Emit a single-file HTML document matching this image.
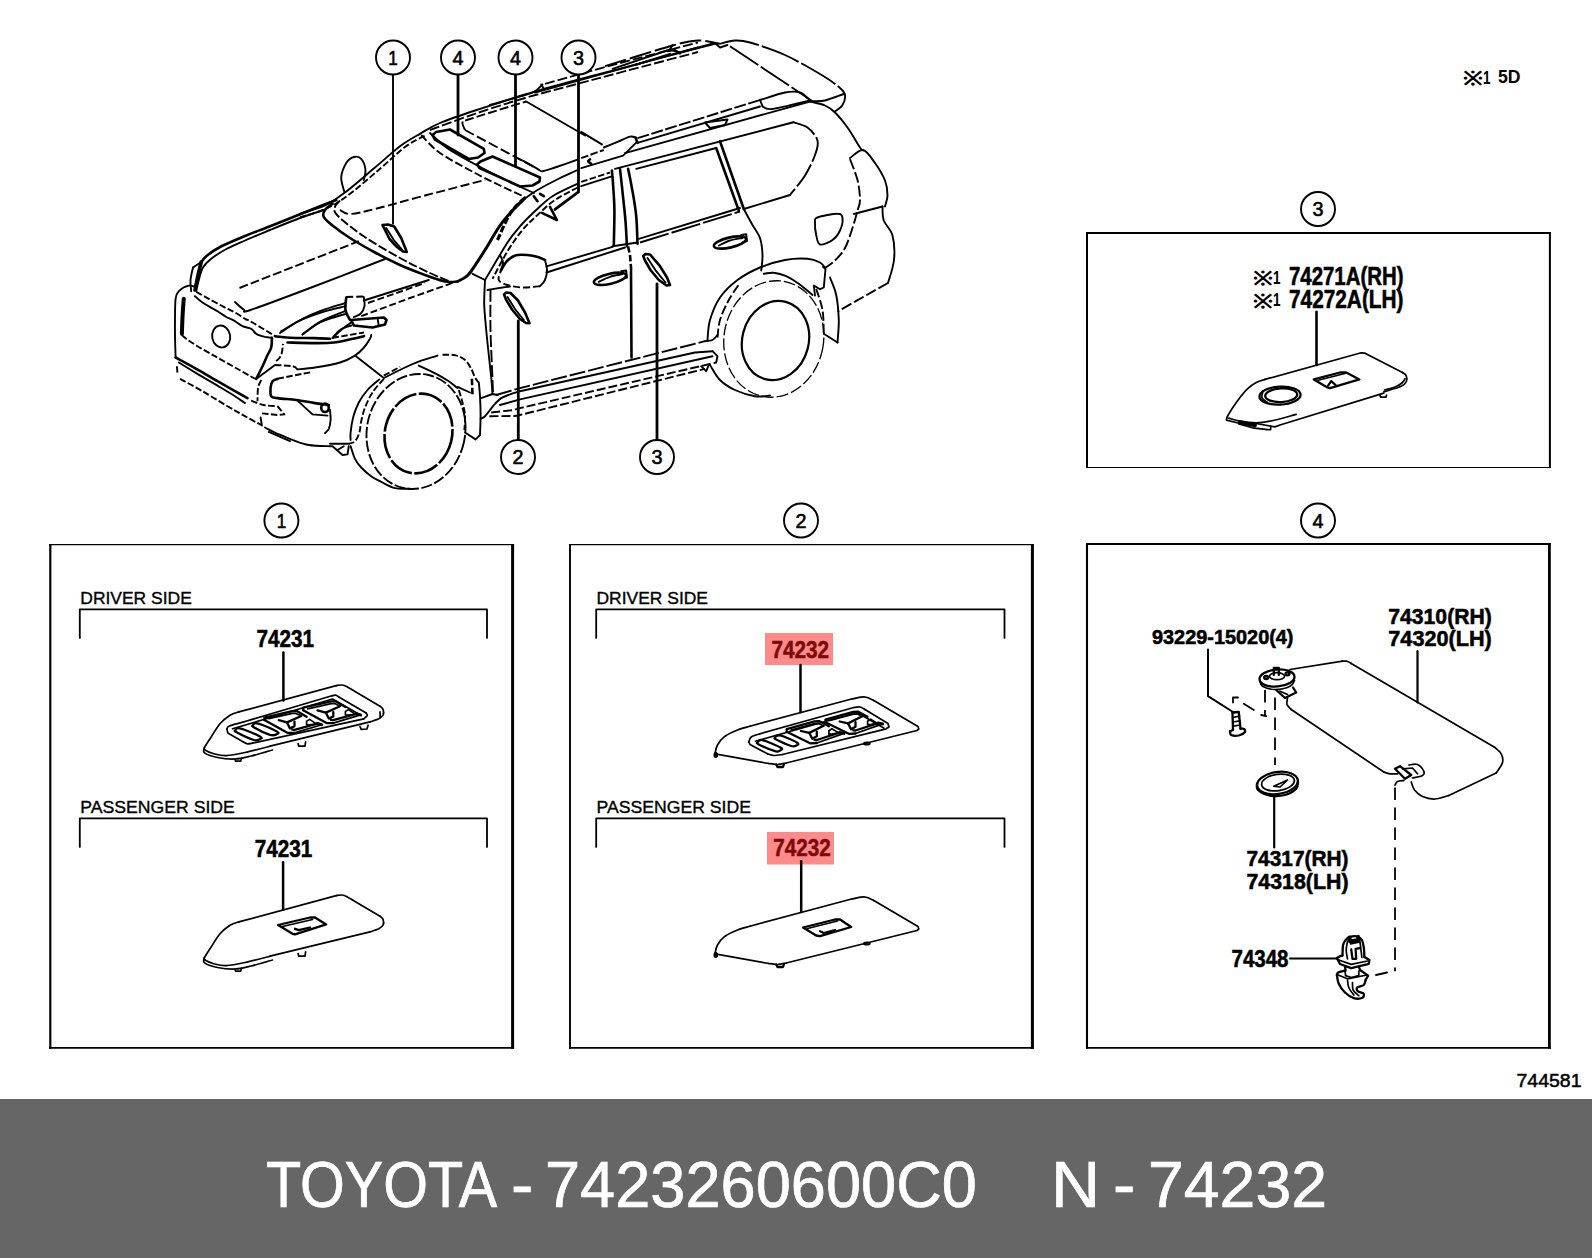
<!DOCTYPE html>
<html lang="en"><head><meta charset="utf-8"><title>TOYOTA - 7423260600C0 N - 74232</title>
<style>
html,body{margin:0;padding:0;background:#fff;}
body{width:1592px;height:1258px;position:relative;overflow:hidden;font-family:"Liberation Sans",sans-serif;}
#dia{position:absolute;left:0;top:0;width:1592px;height:1099px;display:block;}
#dia path,#dia ellipse,#dia circle,#dia line,#dia rect{stroke:#000;stroke-linecap:round;stroke-linejoin:round;}
#dia path,#dia ellipse{fill:none;}
#dia text{font-family:"Liberation Sans",sans-serif;fill:#000;stroke:none;}
#bar{position:absolute;left:0;top:1099px;width:1592px;height:159px;background:#666666;color:#fff;}
#bar span{position:absolute;top:54px;font-size:64px;line-height:64px;white-space:nowrap;transform-origin:0 0;-webkit-text-stroke:0.7px #fff;}
</style></head><body>
<svg id="dia" width="1592" height="1099" viewBox="0 0 1592 1099">
<line x1="49.2" y1="544.6" x2="514.1" y2="544.6" stroke-width="1.4" style="stroke-linecap:butt"/>
<line x1="49.2" y1="1047.9" x2="514.1" y2="1047.9" stroke-width="1.9" style="stroke-linecap:butt"/>
<line x1="50.3" y1="543.9" x2="50.3" y2="1048.9" stroke-width="2.2" style="stroke-linecap:butt"/>
<line x1="512.6" y1="543.9" x2="512.6" y2="1048.9" stroke-width="3" style="stroke-linecap:butt"/>
<line x1="569.1" y1="544.6" x2="1033.9" y2="544.6" stroke-width="1.3" style="stroke-linecap:butt"/>
<line x1="569.1" y1="1047.9" x2="1033.9" y2="1047.9" stroke-width="1.9" style="stroke-linecap:butt"/>
<line x1="570" y1="544" x2="570" y2="1048.9" stroke-width="1.9" style="stroke-linecap:butt"/>
<line x1="1032.4" y1="544" x2="1032.4" y2="1048.9" stroke-width="3" style="stroke-linecap:butt"/>
<line x1="1086" y1="544" x2="1550.8" y2="544" stroke-width="1.9" style="stroke-linecap:butt"/>
<line x1="1086" y1="1047.9" x2="1550.8" y2="1047.9" stroke-width="1.7" style="stroke-linecap:butt"/>
<line x1="1087" y1="543" x2="1087" y2="1048.8" stroke-width="2.1" style="stroke-linecap:butt"/>
<line x1="1549.4" y1="543" x2="1549.4" y2="1048.8" stroke-width="2.8" style="stroke-linecap:butt"/>
<line x1="1086" y1="233" x2="1550.9" y2="233" stroke-width="1.9" style="stroke-linecap:butt"/>
<line x1="1086" y1="467.5" x2="1550.9" y2="467.5" stroke-width="1.2" style="stroke-linecap:butt"/>
<line x1="1087" y1="232.1" x2="1087" y2="468.1" stroke-width="2" style="stroke-linecap:butt"/>
<line x1="1549.9" y1="232.1" x2="1549.9" y2="468.1" stroke-width="2" style="stroke-linecap:butt"/>
<circle cx="281.4" cy="520.5" r="17" stroke-width="1.9" fill="#fff"/>
<text x="281.4" y="527.8" font-size="20.5" text-anchor="middle" textLength="9.5" lengthAdjust="spacingAndGlyphs" style="stroke:#000;stroke-width:0.6px">1</text>
<circle cx="801" cy="520.5" r="17" stroke-width="1.9" fill="#fff"/>
<text x="801" y="527.8" font-size="20.5" text-anchor="middle" textLength="11" lengthAdjust="spacingAndGlyphs" style="stroke:#000;stroke-width:0.6px">2</text>
<circle cx="1318" cy="520.5" r="17" stroke-width="1.9" fill="#fff"/>
<text x="1318" y="527.8" font-size="20.5" text-anchor="middle" textLength="11" lengthAdjust="spacingAndGlyphs" style="stroke:#000;stroke-width:0.6px">4</text>
<circle cx="1318" cy="209" r="17" stroke-width="1.9" fill="#fff"/>
<text x="1318" y="216.3" font-size="20.5" text-anchor="middle" textLength="11" lengthAdjust="spacingAndGlyphs" style="stroke:#000;stroke-width:0.6px">3</text>
<text x="80.3" y="603.6" font-size="16.8" textLength="111.5" lengthAdjust="spacingAndGlyphs" style="stroke:#000;stroke-width:0.35px">DRIVER SIDE</text>
<path d="M79.8 637.9L79.8 609.4L487 609.4L487 637.9" stroke-width="1.8"/>
<text x="80.3" y="812.8" font-size="16.8" textLength="154.5" lengthAdjust="spacingAndGlyphs" style="stroke:#000;stroke-width:0.35px">PASSENGER SIDE</text>
<path d="M79.8 846.9L79.8 818.4L487 818.4L487 846.9" stroke-width="1.8"/>
<text x="596.5" y="603.6" font-size="16.8" textLength="111.5" lengthAdjust="spacingAndGlyphs" style="stroke:#000;stroke-width:0.35px">DRIVER SIDE</text>
<path d="M596.2 637.9L596.2 609.4L1004.5 609.4L1004.5 637.9" stroke-width="1.8"/>
<text x="596.5" y="812.8" font-size="16.8" textLength="154.5" lengthAdjust="spacingAndGlyphs" style="stroke:#000;stroke-width:0.35px">PASSENGER SIDE</text>
<path d="M596.2 846.9L596.2 818.4L1004.5 818.4L1004.5 846.9" stroke-width="1.8"/>
<text x="1516.5" y="1086.7" font-size="19" textLength="65" lengthAdjust="spacingAndGlyphs" style="stroke:#000;stroke-width:0.5px">744581</text>
<path d="M336.2 200C333.5 201 326 203.9 320 206.2C314 208.6 308.3 210.9 300 214.2C291.7 217.6 279.6 222.5 270 226.2C260.4 230 250.8 233.5 242.5 237C234.2 240.5 226 243.8 220 247C214 250.2 209.4 253.7 206.2 256.2C203.1 258.8 202.1 261.5 201.2 262.5" stroke-width="2.6"/>
<path d="M323.8 210C319.8 211.3 309 214.7 300 218C291 221.3 279.2 226.2 270 230C260.8 233.8 252.4 237.2 245 240.5C237.6 243.8 231.1 246.5 225.5 249.5C219.9 252.5 215 255.8 211.2 258.8C207.5 261.8 205.1 264 203 267.5C200.9 271 199.9 276 198.8 280C197.6 284 196.7 289.4 196.2 291.2" stroke-width="1.9"/>
<path d="M201.2 262C200.6 264.6 198.5 272.8 197.5 277.5C196.5 282.2 195.4 287.9 195 290" stroke-width="3.6"/>
<path d="M193 267.5C192.6 269.6 190.8 276 190.5 280C190.2 284 191.1 289.4 191.2 291.2" stroke-width="1.9"/>
<path d="M193 267.5L201.2 262" stroke-width="1.9"/>
<path d="M239.5 288L358.8 241.2" stroke-width="1.9" stroke-dasharray="9 3" style="stroke-linecap:butt"/>
<path d="M235 302C236.5 303.2 241.2 308.2 243.8 309.5C246.3 310.8 239.5 313.6 250.5 310C261.5 306.4 287.6 296.5 310 288C332.4 279.5 372.5 263.8 385 259" stroke-width="1.9"/>
<path d="M363.8 300.5L428.8 280" stroke-width="1.9"/>
<path d="M368 303L425 283" stroke-width="1.9" stroke-dasharray="7 3" style="stroke-linecap:butt"/>
<path d="M361.2 316.2L410 298L455 282" stroke-width="1.9" stroke-dasharray="7 3" style="stroke-linecap:butt"/>
<path d="M346.2 297.5C346.1 299.6 344.9 306.2 345.5 310C346.1 313.8 349.2 318.3 350 320" stroke-width="2.6"/>
<path d="M346.2 297L363.8 296.5" stroke-width="1.9" stroke-dasharray="7 3" style="stroke-linecap:butt"/>
<path d="M363.8 297C363.9 298.5 365 303.5 364.5 306.2C364 309 362.3 312 360.5 313.8C358.7 315.5 354.9 316.5 353.8 317" stroke-width="1.9"/>
<path d="M351.2 320L383.8 317.5L386.5 320L385 324.5L372.5 327.5L353.8 325.5Z" stroke-width="2.6"/>
<path d="M377.5 318.2L378.8 326" stroke-width="1.9"/>
<path d="M280 333C283.3 330.9 292.9 324 300 320.5C307.1 317 314.9 314.4 322.5 312C330.1 309.6 341.7 307.2 345.5 306.2" stroke-width="1.9"/>
<path d="M302.5 334.5C305 332.7 312.1 326.7 317.5 323.8C322.9 320.8 330.2 318.7 335 317C339.8 315.3 344.4 314.3 346.2 313.8" stroke-width="1.9"/>
<path d="M332.5 338C333.8 336.7 336.9 332.1 340 330C343.1 327.9 349.4 326.2 351.2 325.5" stroke-width="1.9"/>
<path d="M472.5 273.8L485 280" stroke-width="1.9"/>
<path d="M485 280C484.9 284.2 484 296.7 484.2 305C484.5 313.3 485.5 321.7 486.2 330C487 338.3 487.9 347.1 488.8 355C489.6 362.9 490.6 371 491.2 377.5C491.9 384 492.3 391.2 492.5 394" stroke-width="1.9"/>
<path d="M490.5 290C490.5 296.7 490.2 317.1 490.5 330C490.8 342.9 491.6 357.1 492 367.5C492.4 377.9 492.8 388.3 493 392.5" stroke-width="1.9" stroke-dasharray="12 3" style="stroke-linecap:butt"/>
<path d="M501.2 270C502.3 268.4 504.8 263 507.5 260.5C510.2 258 512.9 255.7 517.5 255C522.1 254.3 530.4 255.4 535 256.2C539.6 257.1 543.3 259.4 545 260" stroke-width="2.6"/>
<path d="M545 260C545.3 261.7 547 266.7 547 270C547 273.3 546.2 277.3 545 280C543.8 282.7 540.8 285.2 540 286.2" stroke-width="1.9"/>
<path d="M540 286.2C537.1 286.5 527.9 287.7 522.5 287.5C517.1 287.3 511.5 286.2 507.5 285C503.5 283.8 499.8 282.5 498.8 280C497.7 277.5 500.8 271.7 501.2 270" stroke-width="1.9" stroke-dasharray="7 3" style="stroke-linecap:butt"/>
<path d="M487.5 290C490 289.6 498.8 288.1 502.5 287.5C506.2 286.9 508.8 286.7 510 286.5" stroke-width="1.9"/>
<path d="M500 255C500.5 256.2 502.9 259.8 503 262.5C503.1 265.2 500.9 269.8 500.5 271.2" stroke-width="1.9"/>
<path d="M504 294.5L506.2 292.5L510.5 293L518 300.5L525 312.5L529.5 323.2L526 323L520 319L512 309.5L506 299.5Z" stroke-width="2.6"/>
<path d="M507.5 297L515 309L523.8 320" stroke-width="1.9"/>
<path d="M382.5 225L388 224.5L394.2 226.5L401.2 238L406.8 252L403 251.5L397 247L389.5 239Z" stroke-width="2.6"/>
<path d="M386.2 228L393.8 240L402 249.5" stroke-width="1.9"/>
<path d="M196.2 287.5C195 287.2 191.7 285 188.8 285.6C185.8 286.2 180.9 289.1 178.8 291.2C176.6 293.4 176.2 294.4 175.6 298.8C175 303.1 175.1 311.2 175 317.5C174.9 323.8 174.9 329.6 175 336.2C175.1 342.9 175.5 354 175.6 357.5" stroke-width="1.9"/>
<path d="M183.8 298.8C183.5 301.9 182.8 311.7 182.5 317.5C182.2 323.3 182 331 181.9 333.8" stroke-width="4"/>
<path d="M195 296.2C196.2 297.3 198.8 300 202.5 302.5C206.2 305 213.8 309 217.5 311.2C221.2 313.5 222.1 314.6 225 316.2C227.9 317.9 232.1 319.6 235 321.2C237.9 322.9 239.8 325 242.5 326.2C245.2 327.5 249 327.5 251.2 328.8C253.5 330 254 332.4 256.2 333.8C258.5 335.1 262.4 336.2 265 336.9C267.6 337.5 270.7 337.6 271.9 337.8" stroke-width="1.9"/>
<path d="M196.2 291.9C198.3 293 204.2 296.2 208.8 298.8C213.3 301.2 219.4 304.6 223.8 306.9C228.1 309.2 231.5 310.5 235 312.5C238.5 314.5 242.1 317.1 245 318.8C247.9 320.4 247.5 319.6 252.5 322.5C257.5 325.4 271.2 333.8 275 336" stroke-width="1.9" stroke-dasharray="6.5 2.4" style="stroke-linecap:butt"/>
<path d="M271.9 337.8C271.8 339.4 272 344.6 271.2 347.5C270.5 350.4 269 351.9 267.5 355C266 358.1 264.4 362.3 262.5 366.2C260.6 370.2 257.3 376.7 256.2 378.8" stroke-width="2.6"/>
<path d="M256.2 378.8C257.7 377.7 261.9 374.8 265 372.5C268.1 370.2 273.3 366.2 275 365" stroke-width="1.9"/>
<path d="M275 365C277.9 365.2 288.8 365.5 292.5 366.2C296.2 367 296.7 368.9 297.5 369.4" stroke-width="1.9" stroke-dasharray="6.5 2.4" style="stroke-linecap:butt"/>
<path d="M276.2 361.2C277.1 360.2 280.1 357.9 281.2 355C282.4 352.1 282.8 345.6 283.1 343.8" stroke-width="1.9" stroke-dasharray="6.5 2.4" style="stroke-linecap:butt"/>
<path d="M181.9 335C182.6 335.6 183.6 336.9 186.2 338.8C188.9 340.6 192.7 343.3 197.5 346.2C202.3 349.2 208.8 352.7 215 356.2C221.2 359.8 228.3 363.8 235 367.5C241.7 371.2 251.7 376.9 255 378.8" stroke-width="1.9" stroke-dasharray="6.5 2.4" style="stroke-linecap:butt"/>
<ellipse cx="221.2" cy="336.5" rx="9" ry="11" stroke-width="1.9" fill="none" transform="rotate(-10 221.2 336.5)"/>
<path d="M175.6 357.5C179.1 359.4 189.3 364.8 196.2 368.8C203.2 372.7 211 377.5 217.5 381.2C224 385 230 388.4 235 391.2C240 394.1 245.4 397 247.5 398.1" stroke-width="2.6"/>
<path d="M178.8 362.5C181.7 364.3 189.8 369.3 196.2 373.1C202.7 377 211 381.8 217.5 385.6C224 389.5 230.4 393.3 235 396.2C239.6 399.2 243.3 402 245 403.1" stroke-width="1.9"/>
<path d="M176.9 366.2L177.5 373.8" stroke-width="1.9" stroke-dasharray="6.5 2.4" style="stroke-linecap:butt"/>
<path d="M180 378.8C183.8 380.8 194.6 386.7 202.5 391.2C210.4 395.8 220.4 402.1 227.5 406.2C234.6 410.4 239.4 413.1 245 416.2C250.6 419.4 258.5 423.5 261.2 425" stroke-width="1.9" stroke-dasharray="6.5 2.4" style="stroke-linecap:butt"/>
<path d="M261.2 380C260.7 381.2 258.8 384 258.1 387.5C257.5 391 257.6 399 257.5 401.2" stroke-width="1.9" stroke-dasharray="6.5 2.4" style="stroke-linecap:butt"/>
<path d="M260.6 417.5L261.9 425.6" stroke-width="1.9"/>
<path d="M251.2 400.6C253.3 401.4 259.4 404.1 263.8 405C268.1 405.9 275.2 406 277.5 406.2" stroke-width="1.9" stroke-dasharray="6.5 2.4" style="stroke-linecap:butt"/>
<path d="M277.5 406.2L284.4 414.4L277.5 415L260 413.1" stroke-width="1.9" stroke-dasharray="6.5 2.4" style="stroke-linecap:butt"/>
<path d="M265 427.5C267.1 428.5 273.1 431.8 277.5 433.8C281.9 435.7 286 437.5 291.2 439.4C296.5 441.2 302.1 443.9 308.8 445C315.4 446.1 327.5 446 331.2 446.2" stroke-width="1.9"/>
<path d="M268.8 431.9L290 441.2" stroke-width="1.9"/>
<path d="M277.5 378.8C276.7 379.2 273.6 379.8 272.5 381.2C271.4 382.7 270.8 385 270.6 387.5C270.4 390 270.1 394.5 271.2 396.2C272.4 398 273.3 397.5 277.5 398.1C281.7 398.8 290 399.2 296.2 400C302.5 400.8 309.6 402.3 315 403.1C320.4 404 326.5 404.7 328.8 405" stroke-width="2.6"/>
<path d="M277.5 378.8C279.6 378.3 285.8 377.1 290 376.2C294.2 375.4 298.8 374.5 302.5 373.8C306.2 373 310.8 372.2 312.5 371.9" stroke-width="1.9" stroke-dasharray="6.5 2.4" style="stroke-linecap:butt"/>
<path d="M297.5 400.6L312.5 414.4L327.5 415.6" stroke-width="1.9"/>
<ellipse cx="325" cy="407.8" rx="3.8" ry="4.2" stroke-width="2.6" fill="none"/>
<path d="M330 410C330.1 411.7 330.8 416.9 330.6 420C330.4 423.1 329.7 426.6 328.8 428.8C327.8 430.9 325.6 432.4 325 433.1" stroke-width="1.9"/>
<path d="M275 336.2C277.5 336.5 283.3 337.4 290 337.8C296.7 338.1 308.3 338 315 338.1C321.7 338.3 327.5 338.6 330 338.8" stroke-width="2.6"/>
<path d="M287.5 342.5C292.1 342.6 307.3 343.1 315 343.1C322.7 343.1 327.5 343.2 333.8 342.5C340 341.8 347.5 339.8 352.5 338.8C357.5 337.7 362.1 336.7 364 336.2" stroke-width="2.6"/>
<path d="M332.5 337.8L364 332.5" stroke-width="1.9" stroke-dasharray="6.5 2.4" style="stroke-linecap:butt"/>
<path d="M297.5 369.4C300.4 369.1 307.9 368.6 315 367.5C322.1 366.4 333.3 364.5 340 362.5C346.7 360.5 351 358.1 355 355.6C359 353.1 361.5 350.3 364 347.5C366.5 344.7 368.8 340.8 370 338.8C371.2 336.7 371 335.6 371.2 335" stroke-width="1.9"/>
<path d="M281.2 331.2C284.8 329.2 295.8 322.2 302.5 318.8C309.2 315.3 314.2 313.2 321.2 310.6C328.3 308 341 304.4 345 303.1" stroke-width="1.9"/>
<path d="M302.5 334.4C305.6 332.2 314.2 325.1 321.2 321.2C328.3 317.4 341 312.9 345 311.2" stroke-width="1.9"/>
<path d="M332.5 338.1C334.2 336.6 339.4 331.4 342.5 328.8C345.6 326.1 349.8 323.5 351.2 322.5" stroke-width="1.9"/>
<ellipse cx="418.5" cy="433.5" rx="33.6" ry="40.2" stroke-width="2.6" fill="none" stroke-dasharray="25 2.4" style="stroke-linecap:butt" transform="rotate(14 418.5 433.5)"/>
<ellipse cx="416" cy="431.5" rx="49.1" ry="57.9" stroke-width="1.9" fill="none" stroke-dasharray="11.2 2.5" style="stroke-linecap:butt" transform="rotate(12.5 416 431.5)"/>
<path d="M350.6 446.2C351.4 448.3 353.2 455.2 355 458.8C356.8 462.3 358.5 464.6 361.2 467.5C364 470.4 367.7 473.8 371.2 476.2C374.8 478.8 378.5 480.5 382.5 482.5C386.5 484.5 390.4 487.1 395 488.1C399.6 489.2 407.5 488.6 410 488.8" stroke-width="1.9"/>
<path d="M379.4 379.4C377.4 381.1 370.9 386.1 367.5 390C364.1 393.9 361.1 397.9 358.8 402.5C356.4 407.1 354.5 412.5 353.1 417.5C351.8 422.5 351 428.8 350.6 432.5C350.2 436.2 350.6 438.8 350.6 440" stroke-width="1.9"/>
<path d="M383.8 378.8C381.9 381 375.6 387.7 372.5 392.5C369.4 397.3 366.9 402.7 365 407.5C363.1 412.3 362.2 417.1 361.2 421.2C360.3 425.4 360.4 429.2 359.4 432.5C358.3 435.8 356.8 439.4 355 441.2C353.2 443.1 349.8 443.3 348.8 443.8" stroke-width="1.9" stroke-dasharray="6.5 2.4" style="stroke-linecap:butt"/>
<path d="M330 443.8L348.8 443.8" stroke-width="1.9"/>
<path d="M332.5 446.2L342.5 455L347.5 454.4L348.8 446.2" stroke-width="1.9"/>
<path d="M337.5 450L343.8 446.2" stroke-width="1.9"/>
<path d="M355 355.6L383.8 378.1" stroke-width="1.9"/>
<path d="M383.8 375.6L400 366.9" stroke-width="1.9" stroke-dasharray="6.5 2.5" style="stroke-linecap:butt"/>
<path d="M385 377.5C388.3 375.8 399.2 370.2 405 367.5C410.8 364.8 414.6 363.2 420 361.2C425.4 359.3 434.6 356.6 437.5 355.6" stroke-width="1.9"/>
<path d="M442.5 354.8C444.6 354.8 451.2 354.4 455 355.2C458.8 356.1 462.3 357.8 465 360C467.7 362.2 469.6 365.8 471.2 368.8C472.9 371.7 473.8 375.2 475 377.5C476.2 379.8 478.1 381.7 478.8 382.5" stroke-width="1.9" stroke-dasharray="6.5 2.4" style="stroke-linecap:butt"/>
<path d="M478.8 382.5C479 384.8 479.7 390.8 480 396.2C480.3 401.7 480.6 408.5 480.6 415C480.6 421.5 480.1 431.7 480 435" stroke-width="1.9"/>
<path d="M480 435L475.6 439.4L465 432.5" stroke-width="1.9"/>
<path d="M418.8 365.6C421.7 367 431.2 371.1 436.2 373.8C441.2 376.4 445.2 378.9 448.8 381.2C452.3 383.6 456 387 457.5 388.1" stroke-width="1.9"/>
<path d="M457.5 386.9L470 392.5" stroke-width="1.9"/>
<path d="M471.9 378.8L472.5 395" stroke-width="2.6" stroke-dasharray="6.5 2.4" style="stroke-linecap:butt"/>
<path d="M458.8 390C459.4 392.1 461.5 398.3 462.5 402.5C463.5 406.7 464.7 410.4 465 415C465.3 419.6 464.5 427.5 464.4 430" stroke-width="1.9" stroke-dasharray="6.5 2.4" style="stroke-linecap:butt"/>
<path d="M481.2 398.1L492.5 394L497.5 395" stroke-width="1.9"/>
<path d="M518.3 321L518.3 440" stroke-width="2.8"/>
<path d="M393 74.5L393 223.8" stroke-width="1.9"/>
<path d="M458 74.5L458 135" stroke-width="2.8"/>
<path d="M515.5 74.5L515.5 166.2" stroke-width="2.8"/>
<path d="M300 213.8C304.2 212.4 317.5 209 325 205.5C332.5 202 336.7 198.8 345 192.5C353.3 186.2 365.8 175.2 375 167.5C384.2 159.8 392.5 151.9 400 146.2C407.5 140.6 413.3 137.6 420 133.8C426.7 129.9 430.8 126.9 440 123C449.2 119.1 460.8 115.2 475 110.5C489.2 105.8 508.3 99.5 525 94.5C541.7 89.5 558.3 85 575 80.5C591.7 76 604.5 72.9 625 67.5C645.5 62.1 685.8 51.2 698 48" stroke-width="1.9"/>
<path d="M300 217.5C304.6 215.9 319.2 212 327.5 208C335.8 204 341.2 200.3 350 193.8C358.8 187.2 370.8 176.5 380 168.8C389.2 161 397.5 152.5 405 147C412.5 141.5 421.7 137.4 425 135.5" stroke-width="1.9" stroke-dasharray="6.5 2.5" style="stroke-linecap:butt"/>
<path d="M430 130C437.5 127.3 459.2 119.1 475 113.8C490.8 108.4 508.3 102.9 525 98C541.7 93.1 558.3 89 575 84.5C591.7 80 604.5 76.7 625 71.2C645.5 65.8 685.8 55.2 698 52" stroke-width="1.9" stroke-dasharray="10 3" style="stroke-linecap:butt"/>
<path d="M490 105C495.8 103.3 517.5 97.3 525 95C532.5 92.7 532.1 93 535 91.2C537.9 89.5 541.2 85.6 542.5 84.5" stroke-width="1.9"/>
<path d="M535 92.5L612.5 71.2L670 55L698 47.5" stroke-width="1.9"/>
<path d="M541.2 84.5L543.8 88.8" stroke-width="1.9"/>
<path d="M667.5 51.2L675 50L680 53.8" stroke-width="1.9"/>
<path d="M545 83.8L612.5 65L698 42.5" stroke-width="1.9" stroke-dasharray="10 3" style="stroke-linecap:butt"/>
<path d="M344.5 192.5C344 190 341 182.4 341.2 177.5C341.5 172.6 344.2 166.4 346.2 163C348.3 159.6 351.2 157.7 353.8 157C356.2 156.3 359.3 156.6 361.2 158.8C363.2 160.9 365.1 166.5 365.5 170C365.9 173.5 364 178.3 363.8 180" stroke-width="1.9"/>
<path d="M332.5 203.8C331.2 204.8 326.5 207.8 325 210C323.5 212.2 322.5 214.4 323.8 217C325 219.6 328.1 222 332.5 225.5C336.9 229 342.9 233.5 350 238C357.1 242.5 366.7 248 375 252.5C383.3 257 391.7 261.2 400 265C408.3 268.8 417.5 272.2 425 275C432.5 277.8 439.6 280.4 445 281.5C450.4 282.6 455.4 281.5 457.5 281.5" stroke-width="2.6"/>
<path d="M457.5 281.5C459.2 280.5 464.6 278.2 467.5 275.5C470.4 272.8 472.1 269.8 475 265.5C477.9 261.2 480.8 256.7 485 250C489.2 243.3 495.4 232.1 500 225.5C504.6 218.9 508.3 215.1 512.5 210.5C516.7 205.9 522.9 200.1 525 198" stroke-width="3"/>
<path d="M340 200.5C339.2 201.6 335.4 204.5 335 207C334.6 209.5 332.9 210.8 337.5 215.5C342.1 220.2 352.1 228.4 362.5 235.5C372.9 242.6 388.8 251.8 400 258C411.2 264.2 421.7 269.1 430 273C438.3 276.9 446.7 280.1 450 281.5" stroke-width="1.9" stroke-dasharray="9 2.5" style="stroke-linecap:butt"/>
<path d="M421.2 135C424.4 138 431 146.7 440 153C449 159.3 465 167.6 475 173C485 178.4 491.7 181.5 500 185.5C508.3 189.5 520.8 195.1 525 197" stroke-width="1.9" stroke-dasharray="8 3" style="stroke-linecap:butt"/>
<path d="M430 133C433.3 135.8 440.8 143.9 450 150C459.2 156.1 475 164.2 485 169.5C495 174.8 501.9 178.1 510 182C518.1 185.9 529.8 191.2 533.8 193" stroke-width="1.9"/>
<path d="M340 210C341.7 210.7 344.2 214.2 350 214C355.8 213.8 362.5 212.1 375 209C387.5 205.9 406.7 200.3 425 195.5C443.3 190.7 475 182.6 485 180" stroke-width="1.9" stroke-dasharray="9 3.5" style="stroke-linecap:butt"/>
<path d="M436.2 132L450 129.5L483.8 148.8L484.5 153L478 157.5L468.8 159L435 139.5L432.5 135Z" stroke-width="2.6"/>
<path d="M480.5 161.5L492.5 156.5L540 177.5L539.5 181.5L532.5 185.5L520 186.5L479.5 168L477 164.5Z" stroke-width="2.6"/>
<path d="M465 130C464.6 128.8 461.7 124.3 462.5 122.5C463.3 120.7 459.4 122.5 470 119C480.6 115.5 516.9 104.4 526.2 101.5" stroke-width="1.9" stroke-dasharray="9 3" style="stroke-linecap:butt"/>
<path d="M526.2 101.5L585 135.5" stroke-width="1.9"/>
<path d="M465 130L535 167.5" stroke-width="1.9" stroke-dasharray="10 3.5" style="stroke-linecap:butt"/>
<path d="M578.5 57.5L578.5 191.9L555 209.4" stroke-width="2.8"/>
<path d="M550 206.9L556.9 220L541.9 212.8" stroke-width="2.6"/>
<path d="M581.2 131.9L601.9 144.4" stroke-width="1.9"/>
<path d="M578.1 159.4C574.3 160.7 560.9 165.5 555 167.5C549.1 169.5 545.4 171 542.5 171.2C539.6 171.5 540.6 170.4 537.5 168.8C534.4 167.1 527.1 163 523.8 161.2C520.4 159.5 518.5 158.6 517.5 158.1" stroke-width="1.9"/>
<path d="M497.5 240C499.6 235.6 505.8 220.4 510 213.8C514.2 207.1 519.7 202.8 522.5 200C525.3 197.2 526.1 197.4 526.9 196.9" stroke-width="3.2" stroke-dasharray="6.5 2.4" style="stroke-linecap:butt"/>
<path d="M526.2 197.5C528.1 196.2 532.5 192.9 537.5 190C542.5 187.1 549.6 183.3 556.2 180C562.9 176.7 574 171.7 577.5 170" stroke-width="1.9"/>
<path d="M577.5 183.8C573.3 185.8 559.4 191.9 552.5 196.2C545.6 200.6 541.5 205.2 536.2 210C531 214.8 526 219.6 521.2 225C516.5 230.4 513.5 233.3 507.5 242.5C501.5 251.7 488.8 273.8 485 280" stroke-width="1.9"/>
<path d="M577.5 187.5C573.8 189.6 561.7 195.4 555 200C548.3 204.6 542.9 210 537.5 215C532.1 220 527.5 224 522.5 230C517.5 236 512.5 243.1 507.5 251.2C502.5 259.4 495 274.2 492.5 278.8" stroke-width="1.9" stroke-dasharray="6.5 2.4" style="stroke-linecap:butt"/>
<path d="M533.8 196.2L537.5 201.2" stroke-width="2.6"/>
<path d="M540 193.8L543.8 196.2" stroke-width="2.6"/>
<path d="M581.2 158.1L603.8 150" stroke-width="1.9" stroke-dasharray="7.5 2.4" style="stroke-linecap:butt"/>
<path d="M603.8 147.5C606 146.6 613.1 143.7 617.5 141.9C621.9 140.1 626.9 137.3 630 136.6C633.1 135.9 635.2 137.6 636.2 137.8" stroke-width="1.9"/>
<path d="M581.2 168.1L623.1 155.6L636.9 141.9" stroke-width="1.9"/>
<path d="M635.6 137.8L637.5 142.8" stroke-width="2.6"/>
<path d="M590 159.4C589.7 159.7 587.9 160.5 588.1 161.2C588.3 162 590.7 163.3 591.2 163.8" stroke-width="2.6"/>
<path d="M637.5 138.1L760 100" stroke-width="1.9" stroke-dasharray="12 2.5" style="stroke-linecap:butt"/>
<path d="M637.5 142.8L760 106.5" stroke-width="1.9"/>
<path d="M625 153.1L810 101.5" stroke-width="1.9"/>
<path d="M615 168.8L792.5 122.5" stroke-width="1.9"/>
<path d="M636.2 168.8L716.2 148" stroke-width="1.9"/>
<path d="M581.2 181.9L610 172.5" stroke-width="1.9" stroke-dasharray="6.5 2.4" style="stroke-linecap:butt"/>
<path d="M581.2 186.2L612.5 176.2" stroke-width="1.9"/>
<path d="M611.9 170.6C612.1 173 612.7 178.4 613.1 185C613.5 191.6 614.3 199.9 614.4 210C614.5 220.1 613.9 239.7 613.8 245.6" stroke-width="2.6"/>
<path d="M620 168.8C620.5 173.5 622.2 188.5 623.1 197.5C624.1 206.5 625 214.4 625.6 222.5C626.2 230.6 626.7 242.3 626.9 246.2" stroke-width="2.6"/>
<path d="M628.1 168.8C628.9 172.5 631.1 183.3 632.5 191.2C633.9 199.2 635.4 207.5 636.2 216.2C637.1 225 637.3 239.2 637.5 243.8" stroke-width="2.6"/>
<path d="M612.5 246.2L637.5 242.5" stroke-width="1.9"/>
<path d="M546.5 266.3L612.5 246.9" stroke-width="1.9"/>
<path d="M546.5 272.5L625 247.5" stroke-width="1.9"/>
<path d="M638.8 238.8L740 208" stroke-width="1.9"/>
<path d="M640 242.5L740 211.5" stroke-width="1.9" stroke-dasharray="30 3" style="stroke-linecap:butt"/>
<path d="M605 66.2C616.2 62.8 657.1 49.8 672.5 45.5C687.9 41.2 689.6 40.8 697.5 40.5C705.4 40.2 716.2 43.2 720 43.8" stroke-width="1.9" stroke-dasharray="22 4" style="stroke-linecap:butt"/>
<path d="M612.5 68.8L670 49.5L680 52.5" stroke-width="1.9"/>
<path d="M670 49.5L672.5 45" stroke-width="1.9"/>
<path d="M635 65L670 53.8" stroke-width="1.9"/>
<path d="M680 52.5L715 43" stroke-width="1.9"/>
<path d="M698 48.2L715 43.8" stroke-width="1.9"/>
<path d="M715 43L720 47.5L727.5 45" stroke-width="1.9"/>
<path d="M720 43.8C722.5 43.2 730 40.7 735 40.5C740 40.3 741.7 40.1 750 42.5C758.3 44.9 772.9 49.5 785 55C797.1 60.5 813.3 70 822.5 75.5C831.7 81 836.2 84.8 840 88C843.8 91.2 844.6 92.2 845 95C845.4 97.8 844.2 102.2 842.5 105C840.8 107.8 836.2 110.4 835 111.5" stroke-width="1.9" stroke-dasharray="40 3" style="stroke-linecap:butt"/>
<path d="M730 46.2L812.5 101.2" stroke-width="1.9" stroke-dasharray="34 3" style="stroke-linecap:butt"/>
<path d="M812.5 101.2C814.6 101.1 819.8 101.7 825 100.5C830.2 99.3 840.6 95.1 843.8 94" stroke-width="1.9"/>
<path d="M760 100C764.2 98.8 778.3 93.8 785 92.5C791.7 91.2 795.8 91.2 800 92.5C804.2 93.8 808.3 99.2 810 100.5" stroke-width="1.9"/>
<path d="M760 100L762.5 106.2" stroke-width="1.9"/>
<path d="M762.5 106.5C764.2 106.9 764.6 110 772.5 109C780.4 108 803.8 101.9 810 100.5" stroke-width="1.9"/>
<path d="M705 122.5L727.5 119.5L725 125L710 128Z" stroke-width="1.9"/>
<path d="M810 101.5C812.5 102.2 820.8 103.7 825 105.5C829.2 107.3 831.2 108.8 835 112.5C838.8 116.2 843.3 121.7 847.5 127.5C851.7 133.3 857.4 143.7 860 147.5C862.6 151.3 862.5 150 863 150.5" stroke-width="1.9"/>
<path d="M792.5 122C795 122.9 803.3 124.4 807.5 127.5C811.7 130.6 816.2 135.9 817.5 140.5C818.8 145.1 817.1 149.2 815 155C812.9 160.8 809.2 168.8 805 175.5C800.8 182.2 792.5 191.8 790 195" stroke-width="1.9" stroke-dasharray="26 3" style="stroke-linecap:butt"/>
<path d="M790 195L743.8 209" stroke-width="1.9"/>
<path d="M716.2 148L738.8 210.5" stroke-width="2.6"/>
<path d="M720 141.2L743.8 209" stroke-width="2.6"/>
<path d="M743.8 209C745.2 211.7 749.8 220.2 752.5 225C755.2 229.8 758.3 233 760 238C761.7 243 762.3 249.6 762.5 255C762.7 260.4 761.5 267.9 761.2 270.5" stroke-width="1.9"/>
<ellipse cx="730" cy="242.5" rx="16.5" ry="5" stroke-width="2.6" fill="none" transform="rotate(-13 730 242.5)"/>
<path d="M718.8 245.5C720.6 244.7 726 241.8 730 240.5C734 239.2 740.4 238.4 742.5 238" stroke-width="1.9"/>
<path d="M741.2 235L746.2 234.2L747 241.2L742.5 242.5" stroke-width="1.9"/>
<ellipse cx="610" cy="278.8" rx="16.5" ry="5" stroke-width="2.6" fill="none" transform="rotate(-13 610 278.8)"/>
<path d="M598.8 281.8C600.6 280.9 606 278 610 276.8C614 275.5 620.4 274.7 622.5 274.2" stroke-width="1.9"/>
<path d="M621.2 271.2L626.2 270.5L627 277.5L622.5 278.8" stroke-width="1.9"/>
<path d="M628 246.2L630 255L631 267.5L631.2 272.5" stroke-width="2.6" stroke-dasharray="6.5 2.5" style="stroke-linecap:butt"/>
<path d="M643.2 256L645.5 254L650 254.5L660 266.2L667 277.5L670 285L666.5 285.5L658.8 280L650.5 270L645 260.5Z" stroke-width="2.6"/>
<path d="M647.5 258L656.2 271.2L665.5 282.5" stroke-width="1.9"/>
<path d="M817.5 217.5C821.2 216 833.3 213.7 837.5 213.8C841.7 213.8 842.1 215.2 842.5 218C842.9 220.8 841.7 226.8 840 230.5C838.3 234.2 835.8 237.7 832.5 240C829.2 242.3 822.7 245.3 820 244.5C817.3 243.7 817.1 238.6 816.2 235C815.4 231.4 814.8 225.9 815 223C815.2 220.1 813.8 219 817.5 217.5Z" stroke-width="1.9"/>
<path d="M850 158C852.2 156.7 858.8 149.2 863 150C867.2 150.8 871.3 157.9 875 163C878.7 168.1 882.9 175.2 885 180.5C887.1 185.8 887.5 190.7 887.5 195C887.5 199.3 885.4 204.6 885 206.5" stroke-width="1.9"/>
<path d="M850 159C851.2 162.5 855.8 173.2 857.5 180C859.2 186.8 860 194.9 860 200C860 205.1 858.8 205.8 857.5 210.5C856.2 215.2 854.6 221.8 852.5 228C850.4 234.2 847.9 242.6 845 248C842.1 253.4 838.3 257.2 835 260.5C831.7 263.8 826.7 266.8 825 268" stroke-width="1.9" stroke-dasharray="11 3" style="stroke-linecap:butt"/>
<path d="M853.8 214L882.5 206.5" stroke-width="1.9"/>
<path d="M882.5 206.5C882.7 208.8 882.1 215.7 883.8 220.5C885.4 225.3 890.8 228.9 892.5 235.5C894.2 242.1 894.8 252.1 894 260C893.2 267.9 889 279.2 888 283" stroke-width="1.9"/>
<path d="M888 283L837.5 311.5" stroke-width="1.9" stroke-dasharray="11 3" style="stroke-linecap:butt"/>
<ellipse cx="773.8" cy="339" rx="49.8" ry="58.5" stroke-width="1.3" fill="none" stroke-dasharray="12 3" style="stroke-linecap:butt" transform="rotate(10 773.8 339)"/>
<ellipse cx="775.5" cy="340.5" rx="33.2" ry="40" stroke-width="2.2" fill="none" transform="rotate(15 775.5 340.5)"/>
<path d="M710 365C711.7 367.5 715.8 375.8 720 380C724.2 384.2 729.2 387.3 735 390C740.8 392.7 749.2 395.3 755 396.2C760.8 397.2 767.5 395.6 770 395.5" stroke-width="1.9"/>
<path d="M707.5 340C707.9 336.7 707.9 327.1 710 320C712.1 312.9 715.4 304.2 720 297.5C724.6 290.8 730.8 285 737.5 280C744.2 275 752.1 270.8 760 267.5C767.9 264.2 777.1 261.5 785 260C792.9 258.5 801.7 258.3 807.5 258.8C813.3 259.2 817.1 261 820 262.5C822.9 264 824.2 266.7 825 267.5" stroke-width="1.9"/>
<path d="M717.5 337.5C717.9 334.6 718.1 326.2 720 320C721.9 313.8 725.4 306.2 728.8 300C732.1 293.8 738.1 285.8 740 283" stroke-width="1.9" stroke-dasharray="9 3" style="stroke-linecap:butt"/>
<path d="M763.8 273.8C765.4 273.6 770 272.3 773.8 272.8C777.5 273.2 782.1 274.4 786.2 276.2C790.4 278.1 794.4 280.6 798.8 283.8C803.1 286.9 810.2 293.1 812.5 295" stroke-width="1.9"/>
<path d="M823 266.8L825.5 269L823.8 287.5L820 289.2L813.8 285.5L815 295.5" stroke-width="1.9"/>
<path d="M830 277.5C831 280.4 834.8 287.9 836.2 295C837.7 302.1 838.5 312.1 838.8 320C839 327.9 837.7 338.8 837.5 342.5" stroke-width="1.9"/>
<path d="M837.5 342.5L823.8 333.8" stroke-width="1.9"/>
<path d="M816.2 288.8C817.3 292.3 821.2 302.5 822.5 310C823.8 317.5 823.5 329.8 823.8 333.8" stroke-width="1.9" stroke-dasharray="9 3" style="stroke-linecap:butt"/>
<path d="M496.2 395L520 388.1L705 341.2" stroke-width="1.9" stroke-dasharray="16 3" style="stroke-linecap:butt"/>
<path d="M705 341.2C706.2 341 710.4 341 712.5 340C714.6 339 716.7 335.8 717.5 335" stroke-width="1.9"/>
<path d="M480.6 418.8C481.4 418.3 483.4 417.7 485 416.2C486.6 414.8 488.3 412.1 490 410C491.7 407.9 493.1 405.7 495 403.8C496.9 401.8 498.8 399.7 501.2 398.1C503.8 396.6 506.9 395.5 510 394.4C513.1 393.2 518.3 391.8 520 391.2" stroke-width="1.9"/>
<path d="M520 391.2L695 352.5L712.5 351.2" stroke-width="1.9"/>
<path d="M712.5 351.2L717.5 356.2L716.2 362.5" stroke-width="1.9"/>
<path d="M500 405L520 399.4L712.5 356.2" stroke-width="1.9"/>
<path d="M491.2 412.5L513.8 410L520 408.1L716.2 362.5" stroke-width="1.9" stroke-dasharray="9 3" style="stroke-linecap:butt"/>
<path d="M489.4 416.2L515 416L520 415L705 368.8" stroke-width="1.9" stroke-dasharray="9 3" style="stroke-linecap:butt"/>
<path d="M701.2 366.2L706.2 371.2L708.8 365" stroke-width="1.9"/>
<path d="M631 271.2L631.5 357.5" stroke-width="2.6"/>
<path d="M657 283.8L657 440" stroke-width="2.8"/>
<circle cx="393" cy="57.5" r="17" stroke-width="1.9" fill="#fff"/>
<text x="393" y="64.8" font-size="20.5" text-anchor="middle" textLength="9.5" lengthAdjust="spacingAndGlyphs" style="stroke:#000;stroke-width:0.6px">1</text>
<circle cx="458" cy="57.5" r="17" stroke-width="1.9" fill="#fff"/>
<text x="458" y="64.8" font-size="20.5" text-anchor="middle" textLength="11" lengthAdjust="spacingAndGlyphs" style="stroke:#000;stroke-width:0.6px">4</text>
<circle cx="515.5" cy="57.5" r="17" stroke-width="1.9" fill="#fff"/>
<text x="515.5" y="64.8" font-size="20.5" text-anchor="middle" textLength="11" lengthAdjust="spacingAndGlyphs" style="stroke:#000;stroke-width:0.6px">4</text>
<circle cx="578.5" cy="57.5" r="17" stroke-width="1.9" fill="#fff"/>
<text x="578.5" y="64.8" font-size="20.5" text-anchor="middle" textLength="11" lengthAdjust="spacingAndGlyphs" style="stroke:#000;stroke-width:0.6px">3</text>
<circle cx="518" cy="457" r="17" stroke-width="1.9" fill="#fff"/>
<text x="518" y="464.3" font-size="20.5" text-anchor="middle" textLength="11" lengthAdjust="spacingAndGlyphs" style="stroke:#000;stroke-width:0.6px">2</text>
<circle cx="657" cy="457" r="17" stroke-width="1.9" fill="#fff"/>
<text x="657" y="464.3" font-size="20.5" text-anchor="middle" textLength="11" lengthAdjust="spacingAndGlyphs" style="stroke:#000;stroke-width:0.6px">3</text>
<text x="256.5" y="646.9" font-size="24.4" font-weight="bold" textLength="57.5" lengthAdjust="spacingAndGlyphs" style="fill:#000;stroke:#000;stroke-width:0.55px">74231</text>
<path d="M283.4 652.5L283.4 700.6" stroke-width="2.5"/>
<path d="M204.4 747.5C205.3 746 207.4 742.7 210 738.8C212.6 734.8 216.7 727.7 220 723.8C223.3 719.8 226.9 717.2 230 715.2C233.1 713.3 237.3 712.4 238.8 711.9" stroke-width="1.7"/>
<path d="M238.8 711.9L336.2 685.6" stroke-width="1.7"/>
<path d="M336.2 685.6C337.1 685.5 339.8 685 341.2 685C342.7 685 343.1 684.9 345 685.8C346.9 686.6 351.2 689.3 352.5 690" stroke-width="1.7"/>
<path d="M352.5 690L380 706.2" stroke-width="1.7"/>
<path d="M380 706.2C380.5 706.8 382.6 707.9 383.1 709.4C383.6 710.8 383.9 713.4 383.1 715C382.4 716.6 380.9 717.6 378.8 718.8C376.6 719.9 371.5 721.4 370 721.9" stroke-width="1.7"/>
<path d="M370 721.9L270 746.2" stroke-width="1.7"/>
<path d="M270 746.2C265.8 747.3 252.3 750.9 245 752.5C237.7 754.1 231.5 755.4 226.2 755.6C221 755.8 217.3 754.7 213.8 753.8C210.2 752.8 206.6 751 205 750C203.4 749 204.5 747.9 204.4 747.5" stroke-width="1.7"/>
<path d="M204 748.8C204.1 749.5 202.5 751.7 204.8 753.1C207 754.6 212.5 756.5 217.5 757.5C222.5 758.5 229.4 759.2 235 759C240.6 758.8 245 757.5 251.2 756C257.5 754.5 269 751 272.5 750" stroke-width="1.7"/>
<path d="M235 759L235.6 761.2L240.6 761.2L241.5 758.2" stroke-width="1.7"/>
<path d="M298.1 743.5L298.8 746.2L305 746.2L305.6 741.9" stroke-width="1.7"/>
<path d="M360 726.5L361.2 729.4L366.9 729L368.1 725.2" stroke-width="1.7"/>
<path d="M380 711.9L380.2 717.5" stroke-width="1.7"/>
<path d="M226.9 729C227.3 728.5 226.4 727.2 229.4 726C232.4 724.8 242.4 722.2 245 721.5" stroke-width="1.7"/>
<path d="M245 721.5L331.9 695.8" stroke-width="1.7"/>
<path d="M331.9 695.8C332.5 695.7 334.5 695.1 335.6 695.2C336.8 695.4 338.2 696.6 338.8 696.9" stroke-width="1.7"/>
<path d="M338.8 696.9L366.2 713.1" stroke-width="1.7"/>
<path d="M366.2 713.1C366.4 713.5 367.7 714.7 367.2 715.6C366.8 716.6 364.3 718.2 363.8 718.8" stroke-width="1.7"/>
<path d="M363.8 718.8L252.5 743.1" stroke-width="1.7"/>
<path d="M252.5 743.1C251.7 743.2 249 743.9 247.5 743.8C246 743.6 244.4 742.5 243.8 742.2" stroke-width="1.7"/>
<path d="M243.8 742.2L227.8 733.1L226.9 729" stroke-width="1.7"/>
<path d="M232.5 728.8L332.5 699L361.2 715.6" stroke-width="1.7"/>
<path d="M235.6 730C235.9 729.4 236.6 728.2 238.1 728.2C239.7 728.2 241.2 728.6 245 730C248.8 731.4 258.2 735.3 260.6 736.9C263 738.4 260.5 738.9 259.4 739.4C258.2 739.9 257.6 741.2 253.8 740C249.9 738.8 239.3 733.8 236.2 732.1C233.2 730.5 235.3 730.6 235.6 730Z" stroke-width="2.3"/>
<path d="M253.1 725C253.4 724.3 254.1 723.2 255.6 723.2C257.2 723.2 258.9 723.6 262.5 725C266.1 726.4 275.2 730.3 277.5 731.9C279.8 733.4 277.5 733.9 276.2 734.4C275 734.9 273.8 735.9 270 734.8C266.2 733.6 256.6 728.9 253.8 727.2C250.9 725.6 252.8 725.7 253.1 725Z" stroke-width="2.3"/>
<path d="M264.4 720.1L264.4 717.5L292.3 711.1L296.8 711.1L306.6 716.8" stroke-width="2.3"/>
<path d="M264.4 720.1L287.8 732.9L294.5 732.9" stroke-width="2.3"/>
<path d="M294.5 732.9L321.7 724.7" stroke-width="1.7"/>
<path d="M278.7 720.1L287 722.4L301.3 716" stroke-width="2.3"/>
<path d="M287 722.4L290 728.4L294.5 726.2L294.5 721.6" stroke-width="2.3"/>
<path d="M268.9 718.6L292.3 713.4L296.1 713.4L301.3 716" stroke-width="1.7"/>
<path d="M306.6 724.7L306.6 721.3L309.6 719.4L316.4 723.9L309.6 724.8Z" stroke-width="1.7"/>
<path d="M292.3 729.6L294.5 729.9L316.4 723.9" stroke-width="2.3"/>
<path d="M317.2 723.5L321.7 724.7" stroke-width="3"/>
<path d="M303.2 710.3L303.2 707.7L331.1 701.3L335.6 701.3L345.4 707" stroke-width="2.3"/>
<path d="M303.2 710.3L326.6 723.1L333.3 723.1" stroke-width="2.3"/>
<path d="M333.3 723.1L360.5 714.9" stroke-width="1.7"/>
<path d="M317.5 710.3L325.8 712.6L340.1 706.2" stroke-width="2.3"/>
<path d="M325.8 712.6L328.8 718.6L333.3 716.4L333.3 711.8" stroke-width="2.3"/>
<path d="M307.7 708.8L331.1 703.6L334.9 703.6L340.1 706.2" stroke-width="1.7"/>
<path d="M345.4 714.9L345.4 711.5L348.4 709.6L355.2 714.1L348.4 715Z" stroke-width="1.7"/>
<path d="M331.1 719.8L333.3 720.1L355.2 714.1" stroke-width="2.3"/>
<path d="M356 713.7L360.5 714.9" stroke-width="3"/>
<text x="254.7" y="856.9" font-size="24.4" font-weight="bold" textLength="57.5" lengthAdjust="spacingAndGlyphs" style="fill:#000;stroke:#000;stroke-width:0.55px">74231</text>
<path d="M283.1 862.2L283.1 909.4" stroke-width="2.5"/>
<path d="M204.4 957.5C205.3 956 207.4 952.7 210 948.8C212.6 944.8 216.7 937.7 220 933.8C223.3 929.8 226.9 927.2 230 925.2C233.1 923.3 237.3 922.4 238.8 921.9" stroke-width="1.7"/>
<path d="M238.8 921.9L336.2 895.6" stroke-width="1.7"/>
<path d="M336.2 895.6C337.1 895.5 339.8 895 341.2 895C342.7 895 343.1 894.9 345 895.8C346.9 896.6 351.2 899.3 352.5 900" stroke-width="1.7"/>
<path d="M352.5 900L380 916.2" stroke-width="1.7"/>
<path d="M380 916.2C380.5 916.8 382.6 917.9 383.1 919.4C383.6 920.8 383.9 923.4 383.1 925C382.4 926.6 380.9 927.6 378.8 928.8C376.6 929.9 371.5 931.4 370 931.9" stroke-width="1.7"/>
<path d="M370 931.9L270 956.2" stroke-width="1.7"/>
<path d="M270 956.2C265.8 957.3 252.3 960.9 245 962.5C237.7 964.1 231.5 965.4 226.2 965.6C221 965.8 217.3 964.7 213.8 963.8C210.2 962.8 206.6 961 205 960C203.4 959 204.5 957.9 204.4 957.5" stroke-width="1.7"/>
<path d="M204 958.8C204.1 959.5 202.5 961.7 204.8 963.1C207 964.6 212.5 966.5 217.5 967.5C222.5 968.5 229.4 969.2 235 969C240.6 968.8 245 967.5 251.2 966C257.5 964.5 269 961 272.5 960" stroke-width="1.7"/>
<path d="M235 969L235.6 971.2L240.6 971.2L241.5 968.2" stroke-width="1.7"/>
<path d="M298.1 953.5L298.8 956.2L305 956.2L305.6 951.9" stroke-width="1.7"/>
<path d="M278.1 925L310 917.5L315 917.5L326.2 924.4L295 934.4L292.5 933.8Z" stroke-width="2.3"/>
<path d="M282.5 926.5L312.5 919.5" stroke-width="1.7"/>
<path d="M295 928.8L298.8 930.2L310 927.5" stroke-width="2.3"/>
<rect x="765" y="633" width="68" height="32" fill="#ff8a8a" style="stroke:none"/>
<rect x="767" y="832" width="67" height="32.5" fill="#ff8a8a" style="stroke:none"/>
<text x="771.5" y="657.5" font-size="24.4" font-weight="bold" textLength="57.5" lengthAdjust="spacingAndGlyphs" style="fill:#7d0a0a;stroke:#7d0a0a;stroke-width:0.55px">74232</text>
<text x="773.3" y="856.4" font-size="24.4" font-weight="bold" textLength="57.5" lengthAdjust="spacingAndGlyphs" style="fill:#7d0a0a;stroke:#7d0a0a;stroke-width:0.55px">74232</text>
<path d="M800.5 665L800.5 712" stroke-width="2.5"/>
<path d="M715 753.8C715.4 752.3 715.8 747.9 717.5 745C719.2 742.1 721.7 738.8 725 736.2C728.3 733.8 733.3 731.7 737.5 730C741.7 728.3 747.9 726.9 750 726.2" stroke-width="1.7"/>
<path d="M750 726.2L852.5 698.8" stroke-width="1.7"/>
<path d="M852.5 698.8C854.6 698.5 861.5 696.7 865 697C868.5 697.3 872.3 699.9 873.8 700.5" stroke-width="1.7"/>
<path d="M873.8 700.5L918 726.5L918.8 729L917 730.5L786.2 763" stroke-width="1.7"/>
<path d="M786.2 763C784.8 763.2 780.4 764.4 777.5 764.5C774.6 764.6 770.2 763.7 768.8 763.5" stroke-width="1.7"/>
<path d="M768.8 763.5L715 753.8" stroke-width="1.7"/>
<ellipse cx="715.8" cy="755" rx="1.2" ry="1.8" stroke-width="2.3" fill="#000"/>
<path d="M776.2 764.5L777.5 767L783 767L784 764" stroke-width="2.3"/>
<ellipse cx="866.8" cy="743.5" rx="3" ry="1.2" stroke-width="1.7" fill="none"/>
<path d="M748.8 742C749.2 741.2 749.4 738.4 751.2 737C753.1 735.6 758.5 734.3 760 733.8" stroke-width="1.7"/>
<path d="M760 733.8L853.8 707.5" stroke-width="1.7"/>
<path d="M853.8 707.5C854.8 707.4 858.1 706.7 860 707C861.9 707.3 864.2 709.1 865 709.5" stroke-width="1.7"/>
<path d="M865 709.5L888 723.5L889 727L886.2 728.8L782.5 754.5" stroke-width="1.7"/>
<path d="M782.5 754.5C781 754.7 776.2 755.6 773.8 755.5C771.2 755.4 768.5 754 767.5 753.8" stroke-width="1.7"/>
<path d="M767.5 753.8L750 744.5L748.8 742" stroke-width="1.7"/>
<path d="M755.5 741.2L857 712.5L883.8 728" stroke-width="1.7"/>
<path d="M757.5 742.5C757.8 741.8 759 740.2 760.5 740C762 739.8 762.8 739.9 766.2 741.2C769.7 742.6 779 746.5 781.2 748C783.5 749.5 781 750 780 750.5C779 751 778.5 752.2 775 751.2C771.5 750.2 761.7 746 758.8 744.5C755.8 743 757.2 743.2 757.5 742.5Z" stroke-width="2.3"/>
<path d="M775 737.5C775.2 736.8 776 735.7 777.5 735.5C779 735.3 780.4 735.2 783.8 736.5C787.1 737.8 795.4 741.5 797.5 743C799.6 744.5 797.3 745 796.2 745.5C795.2 746 794.6 747 791.2 746C787.9 745 779 740.9 776.2 739.5C773.5 738.1 774.8 738.2 775 737.5Z" stroke-width="2.3"/>
<path d="M786.7 731.7L786.7 729.1L814.6 721.3L819.1 721.1L828.9 726.2" stroke-width="2.3"/>
<path d="M786.7 731.7L810.1 743.3L816.8 743" stroke-width="2.3"/>
<path d="M816.8 743L844 733.4" stroke-width="1.7"/>
<path d="M801 731L809.3 732.9L823.6 725.8" stroke-width="2.3"/>
<path d="M809.3 732.9L812.3 738.7L816.8 736.3L816.8 731.7" stroke-width="2.3"/>
<path d="M791.2 730L814.6 723.6L818.4 723.4L823.6 725.8" stroke-width="1.7"/>
<path d="M828.9 734.2L828.9 730.8L831.9 728.7L838.7 732.9L831.9 734.1Z" stroke-width="1.7"/>
<path d="M814.6 739.8L816.8 740L838.7 732.9" stroke-width="2.3"/>
<path d="M839.5 732.5L844 733.4" stroke-width="3"/>
<path d="M825.4 722.2L825.4 719.6L853.3 711.8L857.8 711.6L867.6 716.7" stroke-width="2.3"/>
<path d="M825.4 722.2L848.8 733.8L855.5 733.5" stroke-width="2.3"/>
<path d="M855.5 733.5L882.7 723.9" stroke-width="1.7"/>
<path d="M839.7 721.5L848 723.4L862.3 716.3" stroke-width="2.3"/>
<path d="M848 723.4L851 729.2L855.5 726.8L855.5 722.2" stroke-width="2.3"/>
<path d="M829.9 720.5L853.3 714.1L857.1 713.9L862.3 716.3" stroke-width="1.7"/>
<path d="M867.6 724.7L867.6 721.3L870.6 719.2L877.4 723.4L870.6 724.6Z" stroke-width="1.7"/>
<path d="M853.3 730.3L855.5 730.5L877.4 723.4" stroke-width="2.3"/>
<path d="M878.2 723L882.7 723.9" stroke-width="3"/>
<path d="M801.2 861.2L801.2 912" stroke-width="2.5"/>
<path d="M715 953.8C715.4 952.3 715.8 947.9 717.5 945C719.2 942.1 721.7 938.8 725 936.2C728.3 933.8 733.3 931.7 737.5 930C741.7 928.3 747.9 926.9 750 926.2" stroke-width="1.7"/>
<path d="M750 926.2L852.5 898.8" stroke-width="1.7"/>
<path d="M852.5 898.8C854.6 898.5 861.5 896.7 865 897C868.5 897.3 872.3 899.9 873.8 900.5" stroke-width="1.7"/>
<path d="M873.8 900.5L918 926.5L918.8 929L917 930.5L786.2 963" stroke-width="1.7"/>
<path d="M786.2 963C784.8 963.2 780.4 964.4 777.5 964.5C774.6 964.6 770.2 963.7 768.8 963.5" stroke-width="1.7"/>
<path d="M768.8 963.5L715 953.8" stroke-width="1.7"/>
<ellipse cx="715.8" cy="955" rx="1.2" ry="1.8" stroke-width="2.3" fill="#000"/>
<path d="M776.2 964.5L777.5 967L783 967L784 964" stroke-width="2.3"/>
<ellipse cx="866.8" cy="943.5" rx="3" ry="1.2" stroke-width="1.7" fill="none"/>
<path d="M803 927.5L835 919.5L840 919.5L851.2 927L820 936.2L816.2 935.5Z" stroke-width="2.3"/>
<path d="M807.5 928.5L837.5 921" stroke-width="1.7"/>
<path d="M820 931.2L823.8 933L835 930" stroke-width="2.3"/>
<text x="1252.7" y="285.1" font-size="19.5" font-weight="bold" textLength="19.5" lengthAdjust="spacingAndGlyphs" font-family="Noto Sans CJK JP, DejaVu Sans, sans-serif">※</text>
<text x="1273.1" y="283.5" font-size="17.5" font-weight="bold" textLength="7.5" lengthAdjust="spacingAndGlyphs">1</text>
<text x="1289" y="285" font-size="25" font-weight="bold" textLength="114.5" lengthAdjust="spacingAndGlyphs" style="fill:#000;stroke:#000;stroke-width:0.55px">74271A(RH)</text>
<text x="1252.7" y="308" font-size="19.5" font-weight="bold" textLength="19.5" lengthAdjust="spacingAndGlyphs" font-family="Noto Sans CJK JP, DejaVu Sans, sans-serif">※</text>
<text x="1273.1" y="306.4" font-size="17.5" font-weight="bold" textLength="7.5" lengthAdjust="spacingAndGlyphs">1</text>
<text x="1289" y="307.8" font-size="25" font-weight="bold" textLength="114.5" lengthAdjust="spacingAndGlyphs" style="fill:#000;stroke:#000;stroke-width:0.55px">74272A(LH)</text>
<text x="1462.7" y="85.1" font-size="19.5" font-weight="bold" textLength="19.5" lengthAdjust="spacingAndGlyphs" font-family="Noto Sans CJK JP, DejaVu Sans, sans-serif">※</text>
<text x="1483.1" y="83.5" font-size="17.5" font-weight="bold" textLength="7.5" lengthAdjust="spacingAndGlyphs">1</text>
<text x="1498" y="83.2" font-size="18" font-weight="bold" textLength="22.5" lengthAdjust="spacingAndGlyphs">5D</text>
<path d="M1316.5 311.9L1316.5 365" stroke-width="2.6"/>
<path d="M1226.9 417.5C1227.6 416.2 1229.1 413.3 1231.2 410C1233.4 406.7 1237.3 401 1240 397.5C1242.7 394 1244.8 391.2 1247.5 388.8C1250.2 386.2 1253.3 384.1 1256.2 382.5C1259.2 380.9 1263.5 379.9 1265 379.4" stroke-width="1.7"/>
<path d="M1265 379.4L1361.2 352.8" stroke-width="1.7"/>
<path d="M1361.2 352.8L1365 353.2L1402.5 372.5" stroke-width="1.7"/>
<path d="M1402.5 372.5C1403.1 373 1405.6 374.1 1406.2 375.6C1406.9 377.2 1407.1 380.1 1406.2 381.9C1405.4 383.6 1405 384.6 1401.2 386.2C1397.5 387.9 1386.7 390.9 1383.8 391.9" stroke-width="1.7"/>
<path d="M1384.4 390C1386.4 389.4 1393.2 387.8 1396.2 386.5C1399.3 385.2 1401 383.8 1402.5 382.5C1404 381.2 1404.6 379.4 1405 378.8" stroke-width="1.7"/>
<path d="M1383.8 393.1L1280 425L1275 426.9L1256.2 423.5" stroke-width="1.7"/>
<path d="M1226.9 417.5L1226.5 420.2L1240 423.5" stroke-width="1.7"/>
<path d="M1228.8 418.1C1230.6 418.6 1235.4 420.5 1240 421.2C1244.6 422 1251.2 422.8 1256.2 422.8C1261.2 422.8 1263.3 422.6 1270 421.2C1276.7 419.9 1291.9 415.5 1296.2 414.4" stroke-width="1.7"/>
<path d="M1238.8 424L1252.5 427.8L1267.5 429.6L1270.6 429.6L1270.9 426.2" stroke-width="1.7"/>
<path d="M1240 422.2L1255 425.2" stroke-width="4"/>
<path d="M1380 395L1380.6 397.2L1386 397.2L1386.5 395" stroke-width="1.7"/>
<ellipse cx="1280" cy="395.6" rx="20.6" ry="9" stroke-width="2.3" fill="none" transform="rotate(-3 1280 395.6)"/>
<ellipse cx="1281.2" cy="395.2" rx="16" ry="6.9" stroke-width="2.3" fill="none" transform="rotate(-3 1281.2 395.2)"/>
<path d="M1263.1 391.2C1262.9 392.3 1261.1 395.6 1261.9 397.5C1262.6 399.4 1266.6 401.7 1267.5 402.5" stroke-width="1.7"/>
<path d="M1313.8 379.4L1340 372.5L1346.2 372.5L1359.4 379.4L1330 388.1L1327.5 387.5Z" stroke-width="2.3"/>
<path d="M1318.1 380.2L1345 373.5" stroke-width="1.7"/>
<path d="M1328.1 385.6L1331.2 381.2L1335.6 385" stroke-width="2.3"/>
<text x="1152" y="643.7" font-size="19.5" font-weight="bold" textLength="141.5" lengthAdjust="spacingAndGlyphs" style="fill:#000;stroke:#000;stroke-width:0.55px">93229-15020(4)</text>
<text x="1388.3" y="623.7" font-size="22.5" font-weight="bold" textLength="103.5" lengthAdjust="spacingAndGlyphs" style="fill:#000;stroke:#000;stroke-width:0.55px">74310(RH)</text>
<text x="1388.3" y="645.5" font-size="22.5" font-weight="bold" textLength="103.5" lengthAdjust="spacingAndGlyphs" style="fill:#000;stroke:#000;stroke-width:0.55px">74320(LH)</text>
<text x="1246.5" y="865.7" font-size="22.5" font-weight="bold" textLength="102" lengthAdjust="spacingAndGlyphs" style="fill:#000;stroke:#000;stroke-width:0.55px">74317(RH)</text>
<text x="1246.5" y="888.5" font-size="22.5" font-weight="bold" textLength="102" lengthAdjust="spacingAndGlyphs" style="fill:#000;stroke:#000;stroke-width:0.55px">74318(LH)</text>
<text x="1231.5" y="966.9" font-size="24.4" font-weight="bold" textLength="57" lengthAdjust="spacingAndGlyphs" style="fill:#000;stroke:#000;stroke-width:0.55px">74348</text>
<path d="M1208 649.5L1208 696.2L1233.8 712.5" stroke-width="2"/>
<path d="M1417.5 651.2L1417.5 702.5" stroke-width="2.2"/>
<path d="M1274.2 796.2L1274.2 847.5" stroke-width="2.2"/>
<path d="M1275 697.5L1275 765" stroke-width="1.8" stroke-dasharray="12.5 7.5" style="stroke-linecap:butt"/>
<path d="M1265 690L1265 716.2" stroke-width="1.8" stroke-dasharray="12.5 7.5" style="stroke-linecap:butt"/>
<path d="M1261.2 715L1266.2 716.2" stroke-width="1.8"/>
<path d="M1233 702.5L1233 697.5L1238 697.5" stroke-width="1.8"/>
<path d="M1243.8 703.8L1253.8 710" stroke-width="1.8"/>
<path d="M1290 669.5L1342.5 661.2" stroke-width="1.7"/>
<path d="M1342.5 661.2C1343.2 661.2 1345.5 660.9 1347 661.2C1348.5 661.6 1350.5 663.1 1351.2 663.5" stroke-width="1.7"/>
<path d="M1351.2 663.5L1495 747.5" stroke-width="1.7"/>
<path d="M1495 747.5C1496 748.5 1500 751.2 1501.2 753.8C1502.5 756.2 1503.3 759.3 1502.5 762.5C1501.7 765.7 1497.3 771.2 1496.2 773" stroke-width="1.7"/>
<path d="M1496.2 773L1448.8 795.5" stroke-width="1.7"/>
<path d="M1448.8 795.5C1446.5 796.1 1439.4 798.8 1435 799C1430.6 799.2 1425.9 798 1422.5 796.5C1419.1 795 1416.4 792.4 1414.5 790C1412.6 787.6 1411.8 783.3 1411.2 782" stroke-width="1.7"/>
<path d="M1397.5 773.8C1396.2 773.8 1392.3 774 1390 773.8C1387.7 773.5 1384.8 772.3 1383.8 772" stroke-width="1.7"/>
<path d="M1383.8 772L1291.2 709.5" stroke-width="1.7"/>
<path d="M1291.2 709.5C1290.5 708.7 1287.6 706.4 1287 704.5C1286.4 702.6 1287.4 699.1 1287.5 698" stroke-width="1.7"/>
<path d="M1395 768.8L1400 766.2L1411.2 775L1405 778.8Z" stroke-width="2.3"/>
<path d="M1408.8 765C1410.2 764.9 1415 763.5 1417.5 764.5C1420 765.5 1422.9 769.4 1423.8 771.2C1424.6 773.1 1424.4 774.4 1422.5 775.5C1420.6 776.6 1414.2 777.6 1412.5 778" stroke-width="1.7"/>
<path d="M1402.5 768.8L1412.5 768L1417.5 773.8" stroke-width="1.7"/>
<path d="M1403.8 780.5C1402.7 780.7 1399 780.8 1397.5 781.5C1396 782.2 1395.4 784.4 1395 785" stroke-width="1.8"/>
<path d="M1395 787.5L1395 971.2" stroke-width="1.8" stroke-dasharray="12.5 7.5" style="stroke-linecap:butt"/>
<path d="M1387 972.5L1376 975" stroke-width="1.8"/>
<ellipse cx="1277" cy="678" rx="17.5" ry="8.5" stroke-width="2.3" fill="none" transform="rotate(-5 1277 678)"/>
<path d="M1260 681.2C1260.4 682.1 1260 684.9 1262.5 686.2C1265 687.6 1270.4 689.5 1275 689.5C1279.6 689.5 1286.8 687.8 1290 686.2C1293.2 684.8 1293.8 681.5 1294.5 680.5" stroke-width="1.7"/>
<ellipse cx="1277" cy="676.2" rx="7.5" ry="3.5" stroke-width="1.7" fill="none"/>
<path d="M1273.8 675L1273.8 668L1278.8 668L1278.8 675" stroke-width="2.3"/>
<ellipse cx="1266.2" cy="677.5" rx="2" ry="1.5" stroke-width="2.3" fill="none"/>
<ellipse cx="1287.5" cy="673.8" rx="2" ry="1.5" stroke-width="2.3" fill="none"/>
<path d="M1276.2 690L1285 698L1296.2 692.5L1293 687.5" stroke-width="2.3"/>
<path d="M1280 691.2L1287.5 694.5" stroke-width="1.7"/>
<path d="M1232.5 712.5L1238.8 712L1240.5 728.8" stroke-width="2.3"/>
<path d="M1232.5 712.5L1233 730" stroke-width="2.3"/>
<path d="M1232.5 717.5L1239.5 716.2" stroke-width="1.7"/>
<path d="M1232.8 722L1240 720.8" stroke-width="1.7"/>
<path d="M1233 726.2L1240.2 725" stroke-width="1.7"/>
<path d="M1230 731.2C1230.2 731.9 1229.8 734.3 1231.2 735C1232.7 735.7 1236.5 736 1238.8 735.5C1241 735 1244.2 733.1 1245 732C1245.8 730.9 1244.5 729.3 1243.8 728.8C1243 728.2 1241 728.8 1240.5 728.8" stroke-width="2.3"/>
<path d="M1230 731.2L1233 730" stroke-width="2.3"/>
<ellipse cx="1277.5" cy="783" rx="20.5" ry="11" stroke-width="2.3" fill="none" transform="rotate(-8 1277.5 783)"/>
<path d="M1257 783.8C1257.2 784.8 1255.8 788 1258 790C1260.2 792 1265.5 794.7 1270 795.5C1274.5 796.3 1280.6 796.1 1285 795C1289.4 793.9 1294.1 790.9 1296.2 788.8C1298.4 786.6 1297.7 783.1 1298 782" stroke-width="2.3"/>
<ellipse cx="1278" cy="782.5" rx="16.5" ry="8.2" stroke-width="1.7" fill="none" transform="rotate(-8 1278 782.5)"/>
<path d="M1273.8 786.2L1287.5 780L1280 787Z" stroke-width="1.7"/>
<path d="M1290 958.5L1336.9 958.5" stroke-width="2.2"/>
<path d="M1342.5 955C1342.6 953.3 1342.6 947.5 1343.1 945C1343.6 942.5 1344.5 941.4 1345.6 940C1346.8 938.6 1348 937.5 1350 936.9C1352 936.3 1355.5 936 1357.5 936.5C1359.5 937 1360.8 938.2 1361.9 940C1362.9 941.8 1363.3 944.7 1363.8 947.5C1364.2 950.3 1364.3 955.3 1364.4 956.9" stroke-width="2.3"/>
<path d="M1349.4 937.5L1350 941.2L1358.8 940.2L1358.1 936.9" stroke-width="4"/>
<path d="M1347.5 941.2C1347.3 942.7 1346.2 947.1 1346.2 950C1346.2 952.9 1347.3 957.3 1347.5 958.8" stroke-width="1.7"/>
<path d="M1350.6 943.8L1360 941.9L1361.9 957.5" stroke-width="1.7"/>
<path d="M1351.2 949.4L1352.5 958.8L1356.2 958.8L1355.6 948.8L1360 948.1" stroke-width="2.3"/>
<path d="M1336.9 958.1L1340 956.2L1342.5 955.6" stroke-width="2.3"/>
<path d="M1364.4 956.9L1369.4 960L1368.8 963.8L1351.2 968.1L1340 964L1336.9 958.1" stroke-width="2.3"/>
<path d="M1338.8 960L1351.2 964.4L1367.5 961" stroke-width="1.7"/>
<path d="M1345 966.2L1345.6 970.6" stroke-width="2.3"/>
<path d="M1358.8 966.5L1360 970" stroke-width="2.3"/>
<path d="M1336.9 975C1337.1 974.6 1336.8 973.2 1338.1 972.5C1339.5 971.8 1343.9 970.9 1345 970.6" stroke-width="2.3"/>
<path d="M1360 970L1368.1 975.6L1365.6 980" stroke-width="2.3"/>
<path d="M1338.1 975L1347.5 978.8L1366.9 975" stroke-width="1.7"/>
<path d="M1345 971.2L1345.6 975.6L1351.2 977.5L1358.8 975.6L1358.8 971" stroke-width="1.7"/>
<path d="M1336.9 975C1337.2 976.5 1337.4 980.8 1338.8 983.8C1340.1 986.7 1342.5 990.1 1345 992.5C1347.5 994.9 1350.8 997.2 1353.8 998.1C1356.7 999 1360.9 998.5 1362.5 997.8C1364.1 997 1364.3 994.6 1363.5 993.5C1362.7 992.4 1358.8 992.2 1357.8 991.2C1356.7 990.2 1356.2 988.5 1357.2 987.5C1358.2 986.5 1362.4 986.2 1363.8 985C1365.1 983.8 1365.3 980.8 1365.6 980" stroke-width="2.3"/>
<path d="M1347.5 980C1347.7 981.2 1347.7 985 1348.8 987.5C1349.8 990 1352.9 993.8 1353.8 995" stroke-width="1.7"/>
<path d="M1352.5 982.5C1352.6 983.8 1352.1 987.8 1353.1 990C1354.2 992.2 1357.8 994.7 1358.8 995.6" stroke-width="1.7"/>
</svg>
<div id="bar"><span style="left:266.3px;transform:scaleX(0.899)">TOYOTA</span> <span style="left:511px;transform:scaleX(1.05)">-</span> <span style="left:544.8px;transform:scaleX(0.9865)">7423260600C0</span> <span style="left:1051.4px;transform:scaleX(1.063)">N</span> <span style="left:1113.4px;transform:scaleX(1.05)">-</span> <span style="left:1148px;transform:scaleX(1.006)">74232</span></div>
</body></html>
